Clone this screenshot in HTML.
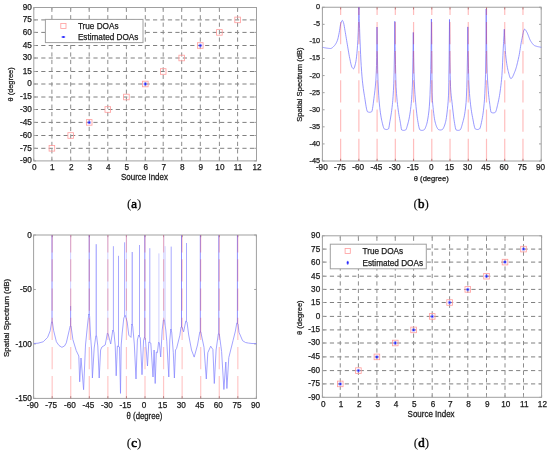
<!DOCTYPE html>
<html><head><meta charset="utf-8"><title>DOA estimation results</title>
<style>
html,body{margin:0;padding:0;background:#fff;}
svg{display:block;}
</style></head>
<body>
<svg width="550" height="455" viewBox="0 0 550 455" font-family="'Liberation Sans', Arial, sans-serif" fill="#1a1a1a" stroke="#1a1a1a" stroke-width="0.25">
<rect width="550" height="455" fill="#fff" stroke="none"/>
<path d="M33.8 148.3H256.5M33.8 135.5H256.5M33.8 122.4H256.5M33.8 109.5H256.5M33.8 97H256.5M33.8 84H256.5M33.8 71.5H256.5M33.8 58H256.5M33.8 45.5H256.5M33.8 32.4H256.5M33.8 19.9H256.5" stroke="#808080" stroke-width="1" stroke-dasharray="4.2 3.25" fill="none"/>
<path d="M51.9 160.9V7.5M70.7 160.9V7.5M89.2 160.9V7.5M107.8 160.9V7.5M126.4 160.9V7.5M145.3 160.9V7.5M163.2 160.9V7.5M181.7 160.9V7.5M200.3 160.9V7.5M219.4 160.9V7.5M237.6 160.9V7.5" stroke="#8c8c8c" stroke-width="1" stroke-dasharray="4.2 3.25" fill="none"/>
<rect x="33.8" y="7.5" width="222.7" height="153.4" fill="none" stroke="#a0a0a0" stroke-width="1"/>
<path d="M33.8 160.9v-2.2M33.8 7.5v2.2M51.9 160.9v-2.2M51.9 7.5v2.2M70.7 160.9v-2.2M70.7 7.5v2.2M89.2 160.9v-2.2M89.2 7.5v2.2M107.8 160.9v-2.2M107.8 7.5v2.2M126.4 160.9v-2.2M126.4 7.5v2.2M145.3 160.9v-2.2M145.3 7.5v2.2M163.2 160.9v-2.2M163.2 7.5v2.2M181.7 160.9v-2.2M181.7 7.5v2.2M200.3 160.9v-2.2M200.3 7.5v2.2M219.4 160.9v-2.2M219.4 7.5v2.2M237.6 160.9v-2.2M237.6 7.5v2.2M256.5 160.9v-2.2M256.5 7.5v2.2M33.8 160.9h2.2M256.5 160.9h-2.2M33.8 148.3h2.2M256.5 148.3h-2.2M33.8 135.5h2.2M256.5 135.5h-2.2M33.8 122.4h2.2M256.5 122.4h-2.2M33.8 109.5h2.2M256.5 109.5h-2.2M33.8 97h2.2M256.5 97h-2.2M33.8 84h2.2M256.5 84h-2.2M33.8 71.5h2.2M256.5 71.5h-2.2M33.8 58h2.2M256.5 58h-2.2M33.8 45.5h2.2M256.5 45.5h-2.2M33.8 32.4h2.2M256.5 32.4h-2.2M33.8 19.9h2.2M256.5 19.9h-2.2M33.8 7.5h2.2M256.5 7.5h-2.2" stroke="#a0a0a0" stroke-width="1" fill="none"/>
<text x="34.3" y="169.6" text-anchor="middle" font-size="8.2">0</text>
<text x="52.4" y="169.6" text-anchor="middle" font-size="8.2">1</text>
<text x="71.2" y="169.6" text-anchor="middle" font-size="8.2">2</text>
<text x="89.7" y="169.6" text-anchor="middle" font-size="8.2">3</text>
<text x="108.3" y="169.6" text-anchor="middle" font-size="8.2">4</text>
<text x="126.9" y="169.6" text-anchor="middle" font-size="8.2">5</text>
<text x="145.8" y="169.6" text-anchor="middle" font-size="8.2">6</text>
<text x="163.7" y="169.6" text-anchor="middle" font-size="8.2">7</text>
<text x="182.2" y="169.6" text-anchor="middle" font-size="8.2">8</text>
<text x="200.8" y="169.6" text-anchor="middle" font-size="8.2">9</text>
<text x="219.9" y="169.6" text-anchor="middle" font-size="8.2">10</text>
<text x="238.1" y="169.6" text-anchor="middle" font-size="8.2">11</text>
<text x="257" y="169.6" text-anchor="middle" font-size="8.2">12</text>
<text x="31.8" y="163.27" text-anchor="end" font-size="8.2">-90</text>
<text x="31.8" y="150.67" text-anchor="end" font-size="8.2">-75</text>
<text x="31.8" y="137.87" text-anchor="end" font-size="8.2">-60</text>
<text x="31.8" y="124.77" text-anchor="end" font-size="8.2">-45</text>
<text x="31.8" y="111.87" text-anchor="end" font-size="8.2">-30</text>
<text x="31.8" y="99.37" text-anchor="end" font-size="8.2">-15</text>
<text x="31.8" y="86.37" text-anchor="end" font-size="8.2">0</text>
<text x="31.8" y="73.87" text-anchor="end" font-size="8.2">15</text>
<text x="31.8" y="60.37" text-anchor="end" font-size="8.2">30</text>
<text x="31.8" y="47.87" text-anchor="end" font-size="8.2">45</text>
<text x="31.8" y="34.77" text-anchor="end" font-size="8.2">60</text>
<text x="31.8" y="22.27" text-anchor="end" font-size="8.2">75</text>
<text x="31.8" y="9.87" text-anchor="end" font-size="8.2">90</text>
<text transform="translate(144.45 179.6) scale(0.975 1)" text-anchor="middle" font-size="8.2">Source Index</text>
<text transform="translate(13 84.45) scale(1.0 1) rotate(-90)" text-anchor="middle" font-size="7.4">θ (degree)</text>
<rect x="45.4" y="19.4" width="97.6" height="23.2" fill="#fff" stroke="#a0a0a0" stroke-width="1"/>
<rect x="60.8" y="23.4" width="5.2" height="5.2" fill="none" stroke="#ff9c9c" stroke-width="0.8"/>
<ellipse cx="63.4" cy="37" rx="2.0" ry="1.1" fill="#5a5aff" stroke="none"/>
<circle cx="63.4" cy="37" r="0.8" fill="#1e1eff" stroke="none"/>
<text x="77.9" y="28.95" font-size="8.2">True DOAs</text>
<text x="77.9" y="39.95" font-size="8.2">Estimated DOAs</text>
<rect x="49.1" y="145.5" width="5.6" height="5.6" fill="none" stroke="#ff9c9c" stroke-width="0.8"/>
<rect x="67.9" y="132.7" width="5.6" height="5.6" fill="none" stroke="#ff9c9c" stroke-width="0.8"/>
<rect x="86.4" y="119.6" width="5.6" height="5.6" fill="none" stroke="#ff9c9c" stroke-width="0.8"/>
<rect x="105" y="106.7" width="5.6" height="5.6" fill="none" stroke="#ff9c9c" stroke-width="0.8"/>
<rect x="123.6" y="94.2" width="5.6" height="5.6" fill="none" stroke="#ff9c9c" stroke-width="0.8"/>
<rect x="142.5" y="81.2" width="5.6" height="5.6" fill="none" stroke="#ff9c9c" stroke-width="0.8"/>
<rect x="160.4" y="68.7" width="5.6" height="5.6" fill="none" stroke="#ff9c9c" stroke-width="0.8"/>
<rect x="178.9" y="55.2" width="5.6" height="5.6" fill="none" stroke="#ff9c9c" stroke-width="0.8"/>
<rect x="197.5" y="42.7" width="5.6" height="5.6" fill="none" stroke="#ff9c9c" stroke-width="0.8"/>
<rect x="216.6" y="29.6" width="5.6" height="5.6" fill="none" stroke="#ff9c9c" stroke-width="0.8"/>
<rect x="234.8" y="17.1" width="5.6" height="5.6" fill="none" stroke="#ff9c9c" stroke-width="0.8"/>
<circle cx="89.2" cy="122.4" r="1.9" fill="#7a7aff" fill-opacity="0.55" stroke="none"/>
<circle cx="89.2" cy="122.4" r="1" fill="#1e1eff" stroke="none"/>
<circle cx="145.3" cy="84" r="1.9" fill="#7a7aff" fill-opacity="0.55" stroke="none"/>
<circle cx="145.3" cy="84" r="1" fill="#1e1eff" stroke="none"/>
<circle cx="200.3" cy="45.5" r="1.9" fill="#7a7aff" fill-opacity="0.55" stroke="none"/>
<circle cx="200.3" cy="45.5" r="1" fill="#1e1eff" stroke="none"/>
<text x="134.2" y="207.6" text-anchor="middle" font-family="'Liberation Serif', 'Times New Roman', serif" font-size="13" fill="#111" stroke-width="0.1">(<tspan stroke-width="0.55" stroke="#000" fill="#000">a</tspan>)</text>
<path d="M322.4 383.9H541.6M322.4 370.6H541.6M322.4 356.9H541.6M322.4 343H541.6M322.4 329.9H541.6M322.4 316.4H541.6M322.4 302.5H541.6M322.4 289.4H541.6M322.4 276.2H541.6M322.4 262.1H541.6M322.4 249.1H541.6" stroke="#808080" stroke-width="1" stroke-dasharray="4.2 3.25" fill="none"/>
<path d="M340.25 397.3V235.8M358.4 397.3V235.8M376.9 397.3V235.8M395.25 397.3V235.8M413.6 397.3V235.8M432.2 397.3V235.8M449.6 397.3V235.8M467.8 397.3V235.8M486.5 397.3V235.8M505 397.3V235.8M523.5 397.3V235.8" stroke="#8c8c8c" stroke-width="1" stroke-dasharray="4.2 3.25" fill="none"/>
<rect x="322.4" y="235.8" width="219.2" height="161.5" fill="none" stroke="#a0a0a0" stroke-width="1"/>
<path d="M322.4 397.3v-2.2M322.4 235.8v2.2M340.25 397.3v-2.2M340.25 235.8v2.2M358.4 397.3v-2.2M358.4 235.8v2.2M376.9 397.3v-2.2M376.9 235.8v2.2M395.25 397.3v-2.2M395.25 235.8v2.2M413.6 397.3v-2.2M413.6 235.8v2.2M432.2 397.3v-2.2M432.2 235.8v2.2M449.6 397.3v-2.2M449.6 235.8v2.2M467.8 397.3v-2.2M467.8 235.8v2.2M486.5 397.3v-2.2M486.5 235.8v2.2M505 397.3v-2.2M505 235.8v2.2M523.5 397.3v-2.2M523.5 235.8v2.2M541.6 397.3v-2.2M541.6 235.8v2.2M322.4 397.3h2.2M541.6 397.3h-2.2M322.4 383.9h2.2M541.6 383.9h-2.2M322.4 370.6h2.2M541.6 370.6h-2.2M322.4 356.9h2.2M541.6 356.9h-2.2M322.4 343h2.2M541.6 343h-2.2M322.4 329.9h2.2M541.6 329.9h-2.2M322.4 316.4h2.2M541.6 316.4h-2.2M322.4 302.5h2.2M541.6 302.5h-2.2M322.4 289.4h2.2M541.6 289.4h-2.2M322.4 276.2h2.2M541.6 276.2h-2.2M322.4 262.1h2.2M541.6 262.1h-2.2M322.4 249.1h2.2M541.6 249.1h-2.2M322.4 235.8h2.2M541.6 235.8h-2.2" stroke="#a0a0a0" stroke-width="1" fill="none"/>
<text x="323.2" y="406.5" text-anchor="middle" font-size="8.2">0</text>
<text x="341.05" y="406.5" text-anchor="middle" font-size="8.2">1</text>
<text x="359.2" y="406.5" text-anchor="middle" font-size="8.2">2</text>
<text x="377.7" y="406.5" text-anchor="middle" font-size="8.2">3</text>
<text x="396.05" y="406.5" text-anchor="middle" font-size="8.2">4</text>
<text x="414.4" y="406.5" text-anchor="middle" font-size="8.2">5</text>
<text x="433" y="406.5" text-anchor="middle" font-size="8.2">6</text>
<text x="450.4" y="406.5" text-anchor="middle" font-size="8.2">7</text>
<text x="468.6" y="406.5" text-anchor="middle" font-size="8.2">8</text>
<text x="487.3" y="406.5" text-anchor="middle" font-size="8.2">9</text>
<text x="505.8" y="406.5" text-anchor="middle" font-size="8.2">10</text>
<text x="524.3" y="406.5" text-anchor="middle" font-size="8.2">11</text>
<text x="542.4" y="406.5" text-anchor="middle" font-size="8.2">12</text>
<text x="320.2" y="399.77" text-anchor="end" font-size="8.2">-90</text>
<text x="320.2" y="386.37" text-anchor="end" font-size="8.2">-75</text>
<text x="320.2" y="373.07" text-anchor="end" font-size="8.2">-60</text>
<text x="320.2" y="359.37" text-anchor="end" font-size="8.2">-45</text>
<text x="320.2" y="345.47" text-anchor="end" font-size="8.2">-30</text>
<text x="320.2" y="332.37" text-anchor="end" font-size="8.2">-15</text>
<text x="320.2" y="318.87" text-anchor="end" font-size="8.2">0</text>
<text x="320.2" y="304.97" text-anchor="end" font-size="8.2">15</text>
<text x="320.2" y="291.87" text-anchor="end" font-size="8.2">30</text>
<text x="320.2" y="278.67" text-anchor="end" font-size="8.2">45</text>
<text x="320.2" y="264.57" text-anchor="end" font-size="8.2">60</text>
<text x="320.2" y="251.57" text-anchor="end" font-size="8.2">75</text>
<text x="320.2" y="238.27" text-anchor="end" font-size="8.2">90</text>
<text transform="translate(431.05 416.9) scale(0.975 1)" text-anchor="middle" font-size="8.2">Source Index</text>
<text transform="translate(301.9 317.7) scale(1.0 1) rotate(-90)" text-anchor="middle" font-size="7.5">θ (degree)</text>
<rect x="330.3" y="244.2" width="96" height="24.6" fill="#fff" stroke="#a0a0a0" stroke-width="1"/>
<rect x="345.1" y="248.4" width="5.2" height="5.2" fill="none" stroke="#ff9c9c" stroke-width="0.8"/>
<ellipse cx="347.7" cy="262.7" rx="1.1" ry="2.0" fill="#5a5aff" stroke="none"/>
<circle cx="347.7" cy="262.7" r="0.8" fill="#1e1eff" stroke="none"/>
<text x="362.5" y="253.95" font-size="8.2">True DOAs</text>
<text x="362.5" y="265.65" font-size="8.2">Estimated DOAs</text>
<rect x="337.45" y="381.1" width="5.6" height="5.6" fill="none" stroke="#ff9c9c" stroke-width="0.8"/>
<circle cx="340.25" cy="383.9" r="1.9" fill="#7a7aff" fill-opacity="0.55" stroke="none"/>
<circle cx="340.25" cy="383.9" r="1" fill="#1e1eff" stroke="none"/>
<rect x="355.6" y="367.8" width="5.6" height="5.6" fill="none" stroke="#ff9c9c" stroke-width="0.8"/>
<circle cx="358.4" cy="370.6" r="1.9" fill="#7a7aff" fill-opacity="0.55" stroke="none"/>
<circle cx="358.4" cy="370.6" r="1" fill="#1e1eff" stroke="none"/>
<rect x="374.1" y="354.1" width="5.6" height="5.6" fill="none" stroke="#ff9c9c" stroke-width="0.8"/>
<circle cx="376.9" cy="356.9" r="1.9" fill="#7a7aff" fill-opacity="0.55" stroke="none"/>
<circle cx="376.9" cy="356.9" r="1" fill="#1e1eff" stroke="none"/>
<rect x="392.45" y="340.2" width="5.6" height="5.6" fill="none" stroke="#ff9c9c" stroke-width="0.8"/>
<circle cx="395.25" cy="343" r="1.9" fill="#7a7aff" fill-opacity="0.55" stroke="none"/>
<circle cx="395.25" cy="343" r="1" fill="#1e1eff" stroke="none"/>
<rect x="410.8" y="327.1" width="5.6" height="5.6" fill="none" stroke="#ff9c9c" stroke-width="0.8"/>
<circle cx="413.6" cy="329.9" r="1.9" fill="#7a7aff" fill-opacity="0.55" stroke="none"/>
<circle cx="413.6" cy="329.9" r="1" fill="#1e1eff" stroke="none"/>
<rect x="429.4" y="313.6" width="5.6" height="5.6" fill="none" stroke="#ff9c9c" stroke-width="0.8"/>
<circle cx="432.2" cy="316.4" r="1.9" fill="#7a7aff" fill-opacity="0.55" stroke="none"/>
<circle cx="432.2" cy="316.4" r="1" fill="#1e1eff" stroke="none"/>
<rect x="446.8" y="299.7" width="5.6" height="5.6" fill="none" stroke="#ff9c9c" stroke-width="0.8"/>
<circle cx="449.6" cy="302.5" r="1.9" fill="#7a7aff" fill-opacity="0.55" stroke="none"/>
<circle cx="449.6" cy="302.5" r="1" fill="#1e1eff" stroke="none"/>
<rect x="465" y="286.6" width="5.6" height="5.6" fill="none" stroke="#ff9c9c" stroke-width="0.8"/>
<circle cx="467.8" cy="289.4" r="1.9" fill="#7a7aff" fill-opacity="0.55" stroke="none"/>
<circle cx="467.8" cy="289.4" r="1" fill="#1e1eff" stroke="none"/>
<rect x="483.7" y="273.4" width="5.6" height="5.6" fill="none" stroke="#ff9c9c" stroke-width="0.8"/>
<circle cx="486.5" cy="276.2" r="1.9" fill="#7a7aff" fill-opacity="0.55" stroke="none"/>
<circle cx="486.5" cy="276.2" r="1" fill="#1e1eff" stroke="none"/>
<rect x="502.2" y="259.3" width="5.6" height="5.6" fill="none" stroke="#ff9c9c" stroke-width="0.8"/>
<circle cx="505" cy="262.1" r="1.9" fill="#7a7aff" fill-opacity="0.55" stroke="none"/>
<circle cx="505" cy="262.1" r="1" fill="#1e1eff" stroke="none"/>
<rect x="520.7" y="246.3" width="5.6" height="5.6" fill="none" stroke="#ff9c9c" stroke-width="0.8"/>
<circle cx="523.5" cy="249.1" r="1.9" fill="#7a7aff" fill-opacity="0.55" stroke="none"/>
<circle cx="523.5" cy="249.1" r="1" fill="#1e1eff" stroke="none"/>
<text x="421.4" y="446.6" text-anchor="middle" font-family="'Liberation Serif', 'Times New Roman', serif" font-size="13" fill="#111" stroke-width="0.1">(<tspan stroke-width="0.55" stroke="#000" fill="#000">d</tspan>)</text>
<rect x="322.4" y="7.25" width="218.8" height="153.75" fill="none" stroke="#a0a0a0" stroke-width="1"/>
<path d="M322.4 161v-2.2M322.4 7.25v2.2M340.63 161v-2.2M340.63 7.25v2.2M358.87 161v-2.2M358.87 7.25v2.2M377.1 161v-2.2M377.1 7.25v2.2M395.33 161v-2.2M395.33 7.25v2.2M413.57 161v-2.2M413.57 7.25v2.2M431.8 161v-2.2M431.8 7.25v2.2M450.03 161v-2.2M450.03 7.25v2.2M468.27 161v-2.2M468.27 7.25v2.2M486.5 161v-2.2M486.5 7.25v2.2M504.73 161v-2.2M504.73 7.25v2.2M522.97 161v-2.2M522.97 7.25v2.2M541.2 161v-2.2M541.2 7.25v2.2M322.4 161h2.2M541.2 161h-2.2M322.4 143.92h2.2M541.2 143.92h-2.2M322.4 126.83h2.2M541.2 126.83h-2.2M322.4 109.75h2.2M541.2 109.75h-2.2M322.4 92.67h2.2M541.2 92.67h-2.2M322.4 75.58h2.2M541.2 75.58h-2.2M322.4 58.5h2.2M541.2 58.5h-2.2M322.4 41.42h2.2M541.2 41.42h-2.2M322.4 24.33h2.2M541.2 24.33h-2.2M322.4 7.25h2.2M541.2 7.25h-2.2" stroke="#a0a0a0" stroke-width="1" fill="none"/>
<text x="321.8" y="170.3" text-anchor="middle" font-size="8.2">-90</text>
<text x="340.03" y="170.3" text-anchor="middle" font-size="8.2">-75</text>
<text x="358.27" y="170.3" text-anchor="middle" font-size="8.2">-60</text>
<text x="376.5" y="170.3" text-anchor="middle" font-size="8.2">-45</text>
<text x="394.73" y="170.3" text-anchor="middle" font-size="8.2">-30</text>
<text x="412.97" y="170.3" text-anchor="middle" font-size="8.2">-15</text>
<text x="431.2" y="170.3" text-anchor="middle" font-size="8.2">0</text>
<text x="449.43" y="170.3" text-anchor="middle" font-size="8.2">15</text>
<text x="467.67" y="170.3" text-anchor="middle" font-size="8.2">30</text>
<text x="485.9" y="170.3" text-anchor="middle" font-size="8.2">45</text>
<text x="504.13" y="170.3" text-anchor="middle" font-size="8.2">60</text>
<text x="522.37" y="170.3" text-anchor="middle" font-size="8.2">75</text>
<text x="540.6" y="170.3" text-anchor="middle" font-size="8.2">90</text>
<text x="320" y="162.96" text-anchor="end" font-size="7.3">-45</text>
<text x="320" y="145.87" text-anchor="end" font-size="7.3">-40</text>
<text x="320" y="128.79" text-anchor="end" font-size="7.3">-35</text>
<text x="320" y="111.71" text-anchor="end" font-size="7.3">-30</text>
<text x="320" y="94.62" text-anchor="end" font-size="7.3">-25</text>
<text x="320" y="77.54" text-anchor="end" font-size="7.3">-20</text>
<text x="320" y="60.45" text-anchor="end" font-size="7.3">-15</text>
<text x="320" y="43.37" text-anchor="end" font-size="7.3">-10</text>
<text x="320" y="26.29" text-anchor="end" font-size="7.3">-5</text>
<text x="320" y="9.21" text-anchor="end" font-size="7.3">0</text>
<text transform="translate(431.3 180.6) scale(1.0 1)" text-anchor="middle" font-size="7.6">θ (degree)</text>
<text transform="translate(301.8 84.6) scale(1.0 1) rotate(-90)" text-anchor="middle" font-size="7.6">Spatial Spectrum (dB)</text>
<polyline points="322.6,47.3 322.94,47.38 323.28,47.46 323.62,47.54 323.96,47.62 324.3,47.69 324.64,47.76 324.97,47.83 325.31,47.89 325.65,47.95 325.99,48.01 326.33,48.06 326.6,48.1 326.67,48.11 327.01,48.16 327.35,48.2 327.69,48.25 328.03,48.3 328.37,48.34 328.71,48.38 329.05,48.42 329.39,48.45 329.72,48.48 330.06,48.49 330.4,48.5 330.5,48.5 330.74,48.48 331.08,48.41 331.42,48.27 331.76,48.09 332.1,47.87 332.44,47.61 332.78,47.31 333.12,47 333.46,46.66 333.8,46.32 334.13,45.97 334.3,45.8 334.47,45.62 334.81,45.22 335.15,44.78 335.49,44.28 335.83,43.73 336.17,43.13 336.51,42.46 336.85,41.73 337.19,40.93 337.4,40.4 337.53,40.05 337.87,38.9 338.21,37.5 338.54,35.93 338.88,34.27 339.2,32.7 339.22,32.58 339.56,30.62 339.9,28.38 340.24,26.17 340.58,24.34 340.8,23.5 340.92,23.14 341.26,22.14 341.6,21.27 341.94,20.65 342.28,20.4 342.3,20.4 342.62,20.63 342.96,21.26 343.29,22.13 343.5,22.7 343.63,23.12 343.97,24.58 344.31,26.45 344.65,28.52 344.99,30.57 345.1,31.2 345.33,32.51 345.67,34.51 346.01,36.56 346.35,38.63 346.69,40.72 347.03,42.78 347.37,44.8 347.4,45 347.7,46.8 348.04,48.85 348.38,50.89 348.72,52.89 349.06,54.82 349.4,56.63 349.7,58.1 349.74,58.29 350.08,59.93 350.42,61.59 350.76,63.2 351.1,64.66 351.44,65.91 351.78,66.87 352,67.3 352.11,67.48 352.45,67.97 352.79,68.39 353.13,68.68 353.47,68.8 353.5,68.8 353.81,68.62 354.15,68.06 354.49,67.18 354.83,66.08 355.17,64.82 355.5,63.5 355.51,63.47 355.85,61.8 356.19,59.57 356.53,56.84 356.86,53.65 357.1,51.2 357.2,50.03 357.54,45.43 357.88,39.53 358.2,32.7 358.22,32.18 358.56,21.35 358.9,7.25 359.24,18.37 359.58,28.67 359.7,32 359.92,38.19 360.27,46.92 360.4,50 360.61,54.46 360.95,61.15 361.2,65.4 361.29,66.8 361.63,71.76 361.97,76.18 362.32,79.97 362.4,80.8 362.66,83.16 363,86.03 363.34,88.63 363.68,91.02 364.02,93.26 364.36,95.38 364.5,96.2 364.71,97.47 365.05,99.69 365.39,101.96 365.73,104.19 366.07,106.3 366.41,108.18 366.75,109.77 367.1,110.95 367.44,111.66 367.6,111.8 367.78,111.88 368.12,112.01 368.46,112.12 368.8,112.21 369.15,112.27 369.49,112.3 369.6,112.3 369.83,112.29 370.17,112.25 370.51,112.19 370.85,112.09 371.19,111.97 371.54,111.83 371.6,111.8 371.88,111.4 372.22,110.25 372.56,108.5 372.9,106.28 373.24,103.76 373.58,101.05 373.93,98.32 374.2,96.2 374.27,95.69 374.61,93.08 374.95,90.25 375.29,86.98 375.63,83.03 375.8,80.8 375.98,78.11 376.32,70.9 376.5,65.4 376.66,57.77 376.8,48 377,27 377.34,51.63 377.4,55 377.68,69.93 377.9,78 378.03,81.32 378.37,89.05 378.71,95.21 379.05,100.08 379.4,103.96 379.4,104 379.74,107.25 380.08,110.19 380.42,112.81 380.77,115.15 381.11,117.22 381.45,119.06 381.79,120.69 382,121.6 382.13,122.17 382.48,123.62 382.82,125.01 383.16,126.3 383.5,127.4 383.85,128.27 384.19,128.83 384.4,129 384.53,129.06 384.87,129.2 385.22,129.31 385.56,129.4 385.9,129.46 386.24,129.5 386.4,129.5 386.58,129.5 386.93,129.47 387.27,129.4 387.61,129.32 387.95,129.2 388.3,129.05 388.4,129 388.64,128.6 388.98,127.21 389.32,125.23 389.67,123.03 389.9,121.6 390.01,120.98 390.35,119.04 390.69,117.06 391.03,114.98 391.38,112.73 391.72,110.25 392.06,107.46 392.4,104.3 392.6,102.3 392.75,100.69 393.09,96.32 393.43,90.68 393.77,83.29 393.9,80 394.12,72.15 394.46,52.84 394.5,50 394.8,21.3 395.14,46.71 395.2,50 395.49,64.59 395.83,78.94 396.1,86.4 396.17,87.73 396.51,93.37 396.86,97.85 397.2,101.47 397.54,104.54 397.88,107.36 397.9,107.5 398.23,110.03 398.57,112.41 398.91,114.57 399.25,116.56 399.6,118.46 399.94,120.31 400.28,122.17 400.5,123.4 400.62,124.16 400.97,126.52 401.31,128.68 401.65,129.86 401.7,129.9 401.99,130.04 402.34,130.17 402.68,130.27 403.02,130.35 403.36,130.39 403.7,130.4 403.71,130.4 404.05,130.38 404.39,130.33 404.74,130.26 405.08,130.15 405.42,130.02 405.7,129.9 405.76,129.86 406.11,129.41 406.45,128.61 406.79,127.57 407.13,126.39 407.48,125.18 407.5,125.1 407.82,123.97 408.16,122.67 408.5,121.28 408.85,119.75 409.19,118.08 409.53,116.23 409.87,114.19 410.22,111.92 410.56,109.42 410.9,106.65 411,105.8 411.24,103.51 411.59,99.59 411.93,94.44 412.27,87.64 412.5,82 412.61,77.84 412.96,57.74 413,55 413.3,32.4 413.64,57.07 413.7,60 413.98,71.4 414.32,81.85 414.6,88 414.67,89.23 415.01,94.68 415.35,99.04 415.69,102.82 415.8,104 416.03,106.47 416.37,109.97 416.72,113.21 417.06,116.14 417.4,118.64 417.6,119.9 417.74,120.71 418.08,122.68 418.42,124.58 418.76,126.32 419.11,127.81 419.45,128.97 419.79,129.7 420,129.9 420.13,129.96 420.47,130.1 420.81,130.21 421.15,130.3 421.5,130.36 421.84,130.4 422,130.4 422.18,130.4 422.52,130.36 422.86,130.29 423.2,130.2 423.55,130.08 423.89,129.95 424,129.9 424.23,129.75 424.57,129.37 424.91,128.83 425.25,128.13 425.59,127.32 425.94,126.42 426.28,125.46 426.4,125.1 426.62,124.41 426.96,123.16 427.3,121.66 427.64,119.91 427.98,117.91 428.33,115.63 428.67,113.07 428.8,112 429.01,110.1 429.35,106.18 429.69,101.05 430,95.2 430.03,94.46 430.38,84.25 430.72,69.52 430.9,60 431.06,49.54 431.4,19 431.74,53.81 431.8,60 432.08,92.36 432.1,93 432.42,100.31 432.77,104.76 433.11,107.71 433.3,109.4 433.45,110.81 433.79,113.81 434.13,116.47 434.47,118.76 434.82,120.61 434.9,121 435.16,122.09 435.5,123.4 435.84,124.56 436.18,125.58 436.52,126.47 436.86,127.23 437,127.5 437.21,127.89 437.55,128.51 437.89,129.03 438.23,129.4 438.4,129.5 438.57,129.57 438.91,129.71 439.25,129.82 439.6,129.91 439.94,129.97 440.28,130 440.4,130 440.62,129.99 440.96,129.96 441.3,129.89 441.65,129.79 441.99,129.67 442.33,129.53 442.4,129.5 442.67,129.29 443.01,128.82 443.35,128.19 443.69,127.51 443.7,127.5 444.04,126.78 444.38,125.94 444.72,124.98 445.06,123.88 445.4,122.65 445.74,121.25 445.8,121 446.08,119.58 446.43,117.47 446.77,114.96 447.11,112.09 447.4,109.4 447.45,108.92 447.79,105.73 448.13,101.77 448.48,95.87 448.6,93 448.82,82.32 449.1,60 449.16,55.07 449.5,19.4 449.85,56.29 449.9,60 450.19,75.18 450.54,86.73 450.6,88 450.88,92.21 451.23,95.94 451.57,98.8 451.92,101.56 452,102.3 452.26,104.71 452.61,107.88 452.95,111.01 453.3,114.02 453.64,116.87 453.99,119.49 454.33,121.83 454.6,123.4 454.68,123.84 455.02,125.83 455.37,127.69 455.72,129.13 456.06,129.87 456.1,129.9 456.41,130.04 456.75,130.17 457.1,130.27 457.44,130.34 457.79,130.39 458.1,130.4 458.13,130.4 458.48,130.38 458.82,130.33 459.17,130.24 459.51,130.13 459.86,130 460.1,129.9 460.2,129.84 460.55,129.42 460.89,128.71 461.24,127.78 461.58,126.68 461.93,125.48 462.28,124.22 462.5,123.4 462.62,122.96 462.97,121.72 463.31,120.44 463.66,119.07 464,117.55 464.35,115.84 464.69,113.89 465.04,111.64 465.38,109.04 465.73,106.04 466.07,102.58 466.1,102.3 466.42,96.95 466.76,87.7 467,80 467.11,75.9 467.45,57.96 467.5,55 467.8,26.9 468.14,51.76 468.2,55 468.48,68.23 468.82,80.62 469,85 469.16,88.07 469.5,93.44 469.84,97.69 470.19,101.17 470.5,104 470.53,104.23 470.87,107.01 471.21,109.51 471.55,111.75 471.89,113.8 472.23,115.68 472.57,117.45 472.6,117.6 472.91,119.22 473.25,121.05 473.59,122.87 473.93,124.59 474.27,126.14 474.61,127.43 474.96,128.39 475.3,128.93 475.4,129 475.64,129.1 475.98,129.23 476.32,129.34 476.66,129.42 477,129.48 477.34,129.5 477.4,129.5 477.68,129.49 478.02,129.45 478.36,129.37 478.7,129.27 479.04,129.15 479.39,129.01 479.4,129 479.73,128.66 480.07,127.95 480.41,126.92 480.75,125.64 481.09,124.17 481.43,122.58 481.77,120.93 481.9,120.3 482.11,119.25 482.45,117.4 482.79,115.32 483.13,112.94 483.47,110.21 483.81,107.05 484.16,103.42 484.5,99.25 484.5,99.2 484.84,93.67 485.18,85.51 485.5,75 485.52,74.29 485.86,53.46 485.9,50 486.2,9 486.54,41.04 486.6,45 486.88,61.11 487.2,72.8 487.22,73.33 487.57,80.1 487.91,85.71 488.25,90.37 488.59,94.25 488.93,97.53 489.27,100.39 489.62,103.01 489.8,104.4 489.96,105.6 490.3,108.21 490.64,110.49 490.98,112.01 491.2,112.4 491.32,112.46 491.66,112.61 492.01,112.72 492.35,112.81 492.69,112.87 493.03,112.9 493.2,112.9 493.37,112.9 493.71,112.86 494.05,112.8 494.4,112.71 494.74,112.59 495.08,112.45 495.2,112.4 495.42,112.22 495.76,111.63 496.1,110.73 496.45,109.59 496.79,108.27 497.13,106.85 497.47,105.38 497.7,104.4 497.81,103.93 498.15,102.44 498.49,100.87 498.84,99.19 499.18,97.38 499.52,95.43 499.86,93.3 500.2,90.98 500.54,88.45 500.88,85.68 501.23,82.66 501.57,79.36 501.7,78 501.91,75.41 502.25,69.72 502.59,62.83 502.93,55.39 503.28,48.1 503.5,43.7 503.62,41.54 503.96,35.32 504.3,29.2 504.64,37.13 504.98,44.51 505.32,50.64 505.6,54.3 505.66,54.88 506,58.06 506.34,60.85 506.68,63.3 507.02,65.44 507.36,67.32 507.69,68.98 508.03,70.45 508.3,71.5 508.37,71.78 508.71,73.09 509.05,74.39 509.39,75.61 509.73,76.69 510.07,77.58 510.41,78.22 510.75,78.56 510.9,78.6 511.09,78.57 511.43,78.41 511.77,78.1 512.11,77.66 512.45,77.12 512.79,76.49 513.13,75.78 513.47,75.01 513.8,74.2 514.14,73.36 514.48,72.52 514.82,71.69 514.9,71.5 515.16,70.84 515.5,69.88 515.84,68.84 516.18,67.71 516.52,66.5 516.86,65.21 517.2,63.87 517.54,62.47 517.88,61.02 518.22,59.53 518.56,58 518.8,56.9 518.9,56.45 519.24,54.71 519.58,52.77 519.91,50.7 520.25,48.56 520.59,46.39 520.93,44.26 521.27,42.24 521.61,40.37 521.95,38.72 522,38.5 522.29,37.17 522.63,35.54 522.97,33.92 523.31,32.39 523.65,31.06 523.99,30.02 524.33,29.37 524.6,29.2 524.67,29.2 525.01,29.36 525.35,29.71 525.69,30.18 526.02,30.74 526.36,31.34 526.7,31.9 526.7,31.91 527.04,32.51 527.38,33.22 527.72,34 528.06,34.85 528.4,35.74 528.74,36.64 529.08,37.54 529.42,38.41 529.76,39.24 530.1,39.99 530.44,40.66 530.7,41.1 530.78,41.22 531.12,41.74 531.46,42.24 531.8,42.74 532.13,43.21 532.47,43.66 532.81,44.08 533.15,44.46 533.49,44.81 533.83,45.11 534.17,45.36 534.51,45.56 534.6,45.6 534.85,45.71 535.19,45.85 535.53,45.98 535.87,46.1 536.21,46.21 536.55,46.31 536.89,46.4 537.23,46.49 537.57,46.58 537.91,46.65 538.24,46.73 538.58,46.8 538.92,46.86 539.26,46.93 539.6,46.99 539.94,47.06 540.28,47.12 540.62,47.18 540.7,47.2 540.96,47.25 541.3,47.3" fill="none" stroke="#6b6bff" stroke-width="0.7" stroke-linejoin="round"/>
<path d="M340.63 161V7.25M358.87 161V7.25M377.1 161V7.25M395.33 161V7.25M413.57 161V7.25M431.8 161V7.25M450.03 161V7.25M468.27 161V7.25M486.5 161V7.25M504.73 161V7.25M522.97 161V7.25" stroke="#ff0000" stroke-opacity="0.26" stroke-width="1.2" stroke-dasharray="22.3 6.9" fill="none"/>
<text x="421.2" y="207.6" text-anchor="middle" font-family="'Liberation Serif', 'Times New Roman', serif" font-size="13" fill="#111" stroke-width="0.1">(<tspan stroke-width="0.55" stroke="#000" fill="#000">b</tspan>)</text>
<rect x="33.6" y="235" width="222.8" height="163.4" fill="none" stroke="#a0a0a0" stroke-width="1"/>
<path d="M33.6 398.4v-2.2M33.6 235v2.2M52.17 398.4v-2.2M52.17 235v2.2M70.73 398.4v-2.2M70.73 235v2.2M89.3 398.4v-2.2M89.3 235v2.2M107.87 398.4v-2.2M107.87 235v2.2M126.43 398.4v-2.2M126.43 235v2.2M145 398.4v-2.2M145 235v2.2M163.57 398.4v-2.2M163.57 235v2.2M182.13 398.4v-2.2M182.13 235v2.2M200.7 398.4v-2.2M200.7 235v2.2M219.27 398.4v-2.2M219.27 235v2.2M237.83 398.4v-2.2M237.83 235v2.2M256.4 398.4v-2.2M256.4 235v2.2M33.6 398.4h2.2M256.4 398.4h-2.2M33.6 343.93h2.2M256.4 343.93h-2.2M33.6 289.47h2.2M256.4 289.47h-2.2M33.6 235h2.2M256.4 235h-2.2" stroke="#a0a0a0" stroke-width="1" fill="none"/>
<text x="32.7" y="407.5" text-anchor="middle" font-size="8.2">-90</text>
<text x="51.27" y="407.5" text-anchor="middle" font-size="8.2">-75</text>
<text x="69.83" y="407.5" text-anchor="middle" font-size="8.2">-60</text>
<text x="88.4" y="407.5" text-anchor="middle" font-size="8.2">-45</text>
<text x="106.97" y="407.5" text-anchor="middle" font-size="8.2">-30</text>
<text x="125.53" y="407.5" text-anchor="middle" font-size="8.2">-15</text>
<text x="144.1" y="407.5" text-anchor="middle" font-size="8.2">0</text>
<text x="162.67" y="407.5" text-anchor="middle" font-size="8.2">15</text>
<text x="181.23" y="407.5" text-anchor="middle" font-size="8.2">30</text>
<text x="199.8" y="407.5" text-anchor="middle" font-size="8.2">45</text>
<text x="218.37" y="407.5" text-anchor="middle" font-size="8.2">60</text>
<text x="236.93" y="407.5" text-anchor="middle" font-size="8.2">75</text>
<text x="255.5" y="407.5" text-anchor="middle" font-size="8.2">90</text>
<text x="31.9" y="401.27" text-anchor="end" font-size="8.2">-150</text>
<text x="31.9" y="346.8" text-anchor="end" font-size="8.2">-100</text>
<text x="31.9" y="292.34" text-anchor="end" font-size="8.2">-50</text>
<text x="31.9" y="237.87" text-anchor="end" font-size="8.2">0</text>
<text transform="translate(144.5 419.4) scale(0.95 1)" text-anchor="middle" font-size="8.2">θ (degree)</text>
<text transform="translate(8.9 317.9) scale(1.0 1) rotate(-90)" text-anchor="middle" font-size="8.0">Spatial Spectrum (dB)</text>
<polyline points="33.8,343.5 38,343.2 43.2,341.8 47.6,337.4 50.2,330.8 51.6,322 52.4,322 53.7,330.8 56.4,341.8 59,345.5 61.9,347.3 64.5,346 66.3,342.9 69.1,330.8 70.2,326 71,326 72.9,339.6 76.2,350.5 78.8,356 79.7,381.8 81,358 83.6,389.7 85.5,345 87.5,325 88.8,314 89.6,316 90.5,335 91.6,350 92.4,378 94.2,348 95.8,336 96.6,336 97.8,346 99.2,378 100.6,350 101.9,347 105.2,345 107.4,333 108.2,334 110.7,344 112.8,330 113.9,332 115.2,345 116.2,375.8 117.4,346 119.5,347 120.5,393.4 121.2,345 122.2,333 123.8,318 125.3,315.4 127.2,322 128.8,335.2 131,337.4 131.8,324 132.7,326 134.3,344 136,379 137.4,340 138.7,335 140.3,338 142,374.7 143.6,340 144.4,337.4 145.3,338 147.5,366 148.8,342 150.8,343 153,377 154.1,350 155.2,383.5 156.3,352 157.4,352.7 158.6,342 159.4,343 160.7,357 162.2,330 163.4,320 164.4,319.8 165.8,330 166.8,341.8 168.8,377 169.8,340 170.8,329 171.7,332 173.3,352.7 174.4,378 175.5,350 176.6,348.4 179.9,335.2 181,327 182,327 183.6,331.9 185.8,321 187,322 188.7,335 191.5,350 194.2,357.1 197.5,345 199.8,332 200.8,332 204,347.3 206.3,379 207.8,352.7 210.7,346.2 212.9,349.5 214.3,383.5 216.1,350 218.3,334 219.3,334 221.6,351.5 223.9,389.5 225.8,362 226.9,388.5 228.8,357.6 233,340.7 235.4,331 236.8,323 238,324 239,332.3 242.6,340.7 245.5,342.5 248.6,343.1 252,343.5 256.6,343.6" fill="none" stroke="#8585ff" stroke-width="0.75" stroke-linejoin="round"/>
<path d="M52 322V235.3" stroke="#6a6aff" stroke-width="0.75" fill="none"/>
<path d="M70.6 326V235.3" stroke="#bcbcff" stroke-width="0.7" fill="none"/>
<path d="M70.6 326V306" stroke="#8c8cff" stroke-width="0.75" fill="none"/>
<path d="M89.2 315V235.3" stroke="#6a6aff" stroke-width="0.75" fill="none"/>
<path d="M96.2 336V244.2" stroke="#7070ff" stroke-width="0.75" fill="none"/>
<path d="M107.8 333.5V235.3" stroke="#bcbcff" stroke-width="0.7" fill="none"/>
<path d="M113.4 331.09V246.2" stroke="#8c8cff" stroke-width="0.75" fill="none"/>
<path d="M118.5 346.52V255.8" stroke="#8c8cff" stroke-width="0.75" fill="none"/>
<path d="M124.6 316.61V242.3" stroke="#8c8cff" stroke-width="0.75" fill="none"/>
<path d="M126.4 319.22V235.3" stroke="#bcbcff" stroke-width="0.7" fill="none"/>
<path d="M132.2 324.89V252" stroke="#7070ff" stroke-width="0.75" fill="none"/>
<path d="M139.5 336.5V245" stroke="#8c8cff" stroke-width="0.75" fill="none"/>
<path d="M144.8 337.67V235.3" stroke="#6a6aff" stroke-width="0.75" fill="none"/>
<path d="M149.8 342.5V248.2" stroke="#8c8cff" stroke-width="0.75" fill="none"/>
<path d="M158.9 342.38V253.4" stroke="#bcbcff" stroke-width="0.7" fill="none"/>
<path d="M163.8 319.92V235.3" stroke="#bcbcff" stroke-width="0.7" fill="none"/>
<path d="M165.1 324.9V246.2" stroke="#bcbcff" stroke-width="0.7" fill="none"/>
<path d="M171.2 330.33V246.6" stroke="#8c8cff" stroke-width="0.75" fill="none"/>
<path d="M181.5 327V235.3" stroke="#6a6aff" stroke-width="0.75" fill="none"/>
<path d="M186.5 321.58V243" stroke="#8c8cff" stroke-width="0.75" fill="none"/>
<path d="M200.3 332V235.3" stroke="#6a6aff" stroke-width="0.75" fill="none"/>
<path d="M218.8 334V235.3" stroke="#6a6aff" stroke-width="0.75" fill="none"/>
<path d="M237.4 323.5V235.3" stroke="#6a6aff" stroke-width="0.75" fill="none"/>
<path d="M52.17 398.4V235M70.73 398.4V235M89.3 398.4V235M107.87 398.4V235M126.43 398.4V235M145 398.4V235M163.57 398.4V235M182.13 398.4V235M200.7 398.4V235M219.27 398.4V235M237.83 398.4V235" stroke="#ff0000" stroke-opacity="0.22" stroke-width="1.2" stroke-dasharray="22.3 6.9" fill="none"/>
<text x="134.1" y="446.6" text-anchor="middle" font-family="'Liberation Serif', 'Times New Roman', serif" font-size="13" fill="#111" stroke-width="0.1">(<tspan stroke-width="0.55" stroke="#000" fill="#000">c</tspan>)</text>
</svg>
</body></html>
